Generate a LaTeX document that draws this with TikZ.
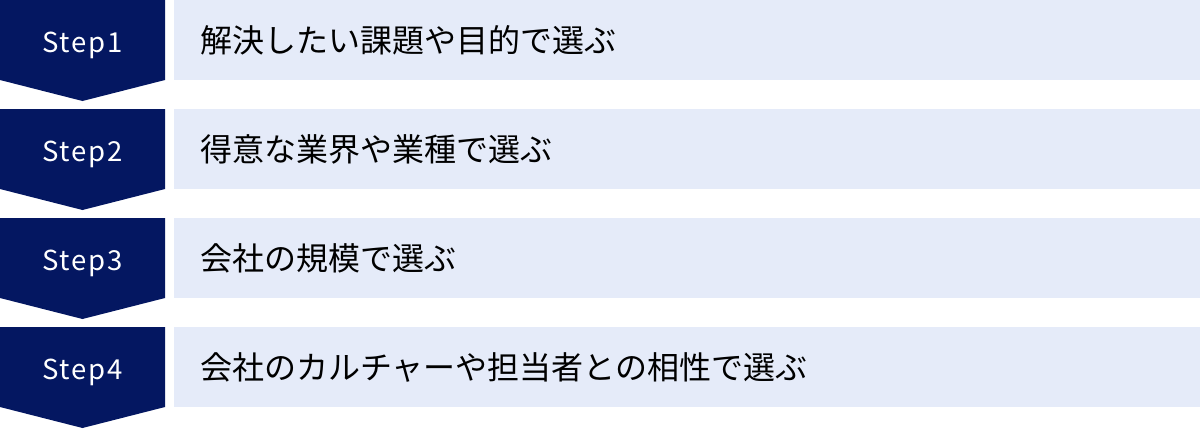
\documentclass[tikz,border=0pt]{standalone}
\usepackage{fontspec}
\setmainfont{Noto Sans CJK JP}
\newfontfamily\stepfont[LetterSpace=6]{Noto Sans CJK JP}
\definecolor{stepnavy}{HTML}{041761}
\definecolor{tasklight}{HTML}{E5EBF9}

\newcommand\defcorners{%
      \coordinate (tl) at (0, 0);
      \coordinate (tr) at (165, 0);
      \coordinate (br) at (165, 80);
      \coordinate (tip) at (82.5, 101);
      \coordinate (bl) at (0, 80);
    }
\newcommand\plotarrow{\fill[stepnavy] (tl) -- (tr) -- (br) -- (tip) -- (bl) -- cycle;}
\newcommand\plotband{\fill[tasklight] (174, 0) rectangle (1200, 80);}

\tikzset{
  steplabel/.style={text=white, anchor=base, inner sep=0pt, font=\stepfont\fontsize{27.5}{32}\selectfont},
  tasklabel/.style={text=black, anchor=west, inner sep=0pt, font=\fontsize{32}{38}\selectfont}
}

\begin{document}
\begin{tikzpicture}[x=1pt, y=-1pt]
      \useasboundingbox (0, 0) rectangle (1200, 429);

      % Step1
      \begin{scope}
        \defcorners
        \plotarrow\plotband
        \node[steplabel] (step1) at (82.5, 52) {Step1};
        \node[tasklabel] (task1) at (200, 40) {解決したい課題や目的で選ぶ};
      \end{scope}

      % Step2
      \begin{scope}[shift={(0, 109)}]
        \defcorners
        \plotarrow\plotband
        \node[steplabel] (step2) at (82.5, 52) {Step2};
        \node[tasklabel] (task2) at (200, 40) {得意な業界や業種で選ぶ};
      \end{scope}

      % Step3
      \begin{scope}[shift={(0, 218)}]
        \defcorners
        \plotarrow\plotband
        \node[steplabel] (step3) at (82.5, 52) {Step3};
        \node[tasklabel] (task3) at (200, 40) {会社の規模で選ぶ};
      \end{scope}

      % Step4
      \begin{scope}[shift={(0, 327)}]
        \defcorners
        \plotarrow\plotband
        \node[steplabel] (step4) at (82.5, 52) {Step4};
        \node[tasklabel] (task4) at (200, 40) {会社のカルチャーや担当者との相性で選ぶ};
      \end{scope}
    \end{tikzpicture}
\end{document}
